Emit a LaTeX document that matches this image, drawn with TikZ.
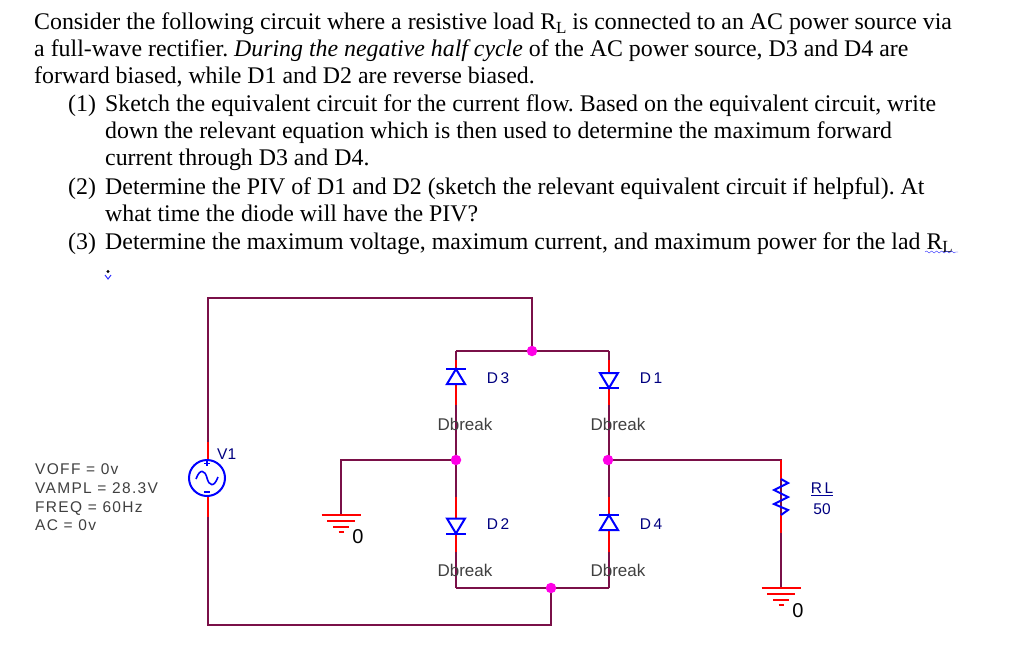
\documentclass[tikz,border=0pt]{standalone}
\usepackage{fontspec}
\setmainfont{Liberation Serif}
\setsansfont{Liberation Sans}
\newfontfamily\spaced[LetterSpace=8.5]{Liberation Sans}
\usetikzlibrary{calc, decorations.pathmorphing}
\def\subL{\raisebox{-0.3ex}{\fontsize{17}{17}\selectfont L}}
\def\itm#1{\makebox[37pt][l]{(#1)}}
\tikzset{
	para/.style={anchor=base west, inner sep=0pt, font=\frenchspacing\fontsize{23.85}{26}\selectfont},
	lbl/.style={anchor=base west, inner sep=0pt, text=black!75, font=\spaced\fontsize{15.5}{18}\selectfont},
	dname/.style={inner sep=0pt, text=blue!50!black, font=\sffamily\fontsize{15.5}{18}\selectfont},
	dbreak/.style={inner sep=0pt, text=black!75, font=\sffamily\fontsize{17}{18}\selectfont},
	gndnum/.style={inner sep=0pt, text=black, font=\sffamily\fontsize{20}{22}\selectfont},
	wire/.style={draw=wirecol, line width=2pt, line join=miter},
	pinw/.style={draw=red, line width=2pt},
	part/.style={draw=blue, line width=2pt},
	dot/.style={circle, fill=dotcol, inner sep=0pt, minimum size=10.5pt},
	gnd/.pic={
		\draw[red, line width=2pt] (-19.5,0) -- (19.5,0);
		\draw[red, line width=2pt] (-14,6) -- (14,6);
		\draw[red, line width=2pt] (-8,11.5) -- (8,11.5);
		\draw[red, line width=2pt] (-2.5,17) -- (2.5,17);
	},
	diodeup/.pic={
		\draw[part] (-10,-7.5) -- (10,-7.5);
		\draw[part] (0,-7.5) -- (-9,7.5) -- (9,7.5) -- cycle;
	},
	diodedown/.pic={
		\draw[part] (-10,7.5) -- (10,7.5);
		\draw[part] (0,7.5) -- (-9,-7.5) -- (9,-7.5) -- cycle;
	},
}
\definecolor{wirecol}{HTML}{7A1048}
\definecolor{dotcol}{HTML}{FF00E6}
\begin{document}
\begin{tikzpicture}[x=1pt, y=-1pt]
		\useasboundingbox (0,0) rectangle (1024,647);

		% question text
		\node[para] (l1) at (34,30) {Consider the following circuit where a resistive load R\subL{} is connected to an AC power source via};
		\node[para] (l2) at (34,57) {a full-wave rectifier. \textit{During the negative half cycle} of the AC power source, D3 and D4 are};
		\node[para] (l3) at (34,84) {forward biased, while D1 and D2 are reverse biased.};
		\node[para] (l4) at (68,112) {\itm{1}Sketch the equivalent circuit for the current flow. Based on the equivalent circuit, write};
		\node[para] (l5) at (105,139) {down the relevant equation which is then used to determine the maximum forward};
		\node[para] (l6) at (105,166) {current through D3 and D4.};
		\node[para] (l7) at (68,194) {\itm{2}Determine the PIV of D1 and D2 (sketch the relevant equivalent circuit if helpful). At};
		\node[para] (l8) at (105,221) {what time the diode will have the PIV?};
		\node[para] (l9) at (68,249) {\itm{3}Determine the maximum voltage, maximum current, and maximum power for the lad R\subL{}};
		\draw[blue!80!white, thin, decorate, decoration={snake, amplitude=1pt, segment length=5pt}] (925,252) -- (958,252);

		% stray mark
		\fill (108,271.5) circle (1.7);
		\draw[blue!80!white, line width=1pt] (105,275) -- (108,279) -- (111,275);

		\coordinate (VT) at (208,460);
		\coordinate (VB) at (208,496);
		\coordinate (TR) at (532,298);
		\coordinate (BR) at (551,625);
		\coordinate (A) at (532,351);
		\coordinate (B) at (551,588);
		\coordinate (C) at (456,460);
		\coordinate (E) at (608,460);
		\coordinate (AL) at (456,351);
		\coordinate (AR) at (609,351);
		\coordinate (BBL) at (456,588);
		\coordinate (BBR) at (609,588);
		\coordinate (G1) at (341,515);
		\coordinate (G1c) at (341,460);
		\coordinate (G2) at (781,588);
		\coordinate (Rc) at (781,460);

		% wires
		\draw[wire] (208,442) -- (208,298) -- (TR) -- (A);
		\draw[wire] (208,517) -- (208,625) -- (BR) -- (B);
		\draw[wire] (AL) -- (AR);
		\draw[wire] (BBL) -- (BBR);
		\draw[wire] (AL) -- (BBL);
		\draw[wire] (AR) -- (BBR);
		\draw[wire] (C) -- (G1c) -- (G1);
		\draw[wire] (E) -- (Rc) -- (G2);

		% red pins over the wires
		\draw[pinw] (208,442) -- (VT);
		\draw[pinw] (VB) -- (208,517);
		\draw[pinw] (456,360) -- (456,405);
		\draw[pinw] (609,360) -- (609,405);
		\draw[pinw] (456,497) -- (456,552);
		\draw[pinw] (609,497) -- (609,552);
		\draw[pinw] (781,460) -- (781,479);
		\draw[pinw] (781,515) -- (781,533);

		\fill[white] (447,369) rectangle (465,384);
		\fill[white] (600,373) rectangle (618,388);
		\fill[white] (447,519) rectangle (465,533);
		\fill[white] (600,515) rectangle (618,530);
		\pic at (456,376.5) {diodeup};
		\pic at (609,380.5) {diodedown};
		\pic at (456,526) {diodedown};
		\pic at (609,522.5) {diodeup};

		\node[dname] (d3) at (498,378) {D\,3};
		\node[dname] (d1) at (651,378) {D\,1};
		\node[dname] (d2) at (498,524) {D\,2};
		\node[dname] (d4) at (651,524) {D\,4};

		\node[dbreak] (m3) at (465,424) {Dbreak};
		\node[dbreak] (m1) at (618,424) {Dbreak};
		\node[dbreak] (m2) at (465,570) {Dbreak};
		\node[dbreak] (m4) at (618,570) {Dbreak};

		\node[dot] (n1) at (A) {};
		\node[dot] (n2) at (C) {};
		\node[dot] (n3) at (E) {};
		\node[dot] (n4) at (B) {};

		% source
		\draw[part] (207,478) circle (18);
		\draw[part, line width=1.6pt] (196,479) .. controls (200,468) and (205,470) .. (207,478) .. controls (209,486) and (214,488) .. (218,477);
		\draw[part, line width=1.2pt] (204,463.5) -- (210,463.5);
		\draw[part, line width=1.2pt] (207,461) -- (207,466);
		\draw[part, line width=1.2pt] (204,492) -- (210,492);
		\node[dname, anchor=base west] (v1) at (217,459) {V1};

		\node[lbl] (p1) at (35,474) {VOFF = 0v};
		\node[lbl] (p2) at (35,493) {VAMPL = 28.3V};
		\node[lbl] (p3) at (35,512) {FREQ = 60Hz};
		\node[lbl] (p4) at (35,530) {AC = 0v};

		% load
		\draw[part] (781,479) -- (788,483) -- (774,490) -- (788,497) -- (774,504) -- (788,510) -- (781,515);
		\node[dname] (rl) at (822,488) {R\,L};
		\draw[blue!60!black, line width=0.8pt] (811,495.5) -- (833,495.5);
		\node[dname] (rv) at (822,509) {50};

		\pic at (G1) {gnd};
		\pic at (G2) {gnd};
		\node[gndnum] (z1) at (358,537) {0};
		\node[gndnum] (z2) at (798,611) {0};
	\end{tikzpicture}
\end{document}
